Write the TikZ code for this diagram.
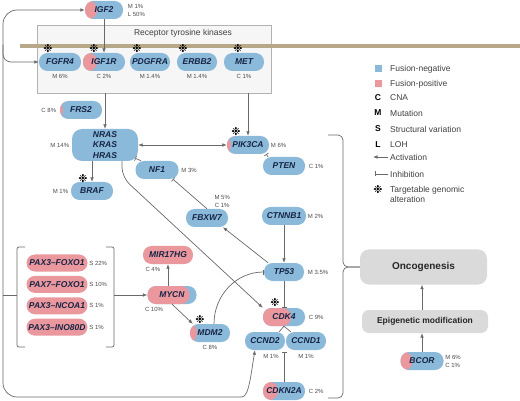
\documentclass[tikz,border=0pt]{standalone}
\usepackage{fontspec}
\setmainfont{Liberation Sans}
\newfontfamily\symfont{DejaVu Sans}
\usepackage{xcolor}
\usepackage{tikz}
\usetikzlibrary{positioning,arrows.meta}

\definecolor{fneg}{RGB}{139,185,218}
\definecolor{fpos}{RGB}{234,152,158}
\definecolor{genetext}{RGB}{22,36,68}
\definecolor{linegray}{RGB}{105,105,105}
\definecolor{freqgray}{RGB}{75,75,75}
\definecolor{boxgray}{RGB}{218,218,218}
\definecolor{rtkfill}{RGB}{246,246,246}
\definecolor{membrane}{RGB}{183,169,135}

\begin{document}
\begin{tikzpicture}[x=1pt, y=1pt, >={Latex[length=4.5pt,width=3.6pt]},
    pinkleft/.style={path picture={\fill[fpos] (path picture bounding box.south west) rectangle ([xshift=#1]path picture bounding box.north west);}}]
    \tikzstyle{gene} = [fill=fneg, rounded corners=8.5pt, minimum height=18pt, minimum width=42pt, inner sep=1pt, text=genetext, font=\fontsize{8.5}{10.5}\selectfont\bfseries\itshape]
    \tikzstyle{fusion} = [gene, fill=fpos, minimum width=61pt, minimum height=17pt]
    \tikzstyle{freq} = [font=\fontsize{6}{8}\selectfont, text=freqgray, inner sep=0.5pt, align=left]
    \tikzstyle{tgt} = [font=\fontsize{11}{11}\selectfont\symfont, inner sep=0pt]
    \tikzstyle{arrow} = [->, linegray, line width=0.7pt]
    \tikzstyle{inhib} = [-{Bar[width=5pt]}, linegray, line width=0.7pt]
    \tikzstyle{link} = [linegray, line width=0.7pt]
    \tikzstyle{outcome} = [fill=boxgray, rounded corners=9pt, text=black!85]
    \tikzstyle{legtext} = [anchor=west, font=\fontsize{8.5}{10}\selectfont, text=black!75, inner sep=0pt, align=left]
    \tikzstyle{legkey} = [font=\fontsize{8.5}{10}\selectfont\bfseries, inner sep=0pt]
    \tikzstyle{swatch} = [minimum size=7pt, inner sep=0pt]

    \useasboundingbox (0,0) rectangle (520,-401);

    % receptor tyrosine kinases at the membrane
    \node[draw=black!30, fill=rtkfill, minimum width=234pt, minimum height=68pt, anchor=north west] (rtk) at (37,-25) {};
    \node[font=\fontsize{8.5}{10}\selectfont, text=black!75] at (183,-33) {Receptor tyrosine kinases};
    \draw[membrane, line width=3.5pt] (20,-46) -- (520,-46);

    \node[gene, pinkleft=12pt, minimum width=38pt] (igf2) at (104,-10) {IGF2};
    \node[gene] (fgfr4) at (60,-62) {FGFR4};
    \node[gene, pinkleft=14pt] (igf1r) at (104,-62) {IGF1R};
    \node[gene, minimum width=40pt] (pdgfra) at (150,-62) {PDGFRA};
    \node[gene, minimum width=40pt] (erbb2) at (197,-62) {ERBB2};
    \node[gene, minimum width=40pt] (met) at (244,-62) {MET};

    % signalling
    \node[gene, pinkleft=3pt] (frs2) at (81,-110) {FRS2};
    \node[gene, minimum width=66pt, minimum height=32pt, rounded corners=10pt, align=center] (ras) at (105,-145) {NRAS\\KRAS\\HRAS};
    \node[gene] (braf) at (92,-191) {BRAF};
    \node[gene, minimum width=43pt] (nf1) at (157,-170) {NF1};
    \node[gene, pinkleft=4pt] (pik3ca) at (248,-145) {PIK3CA};
    \node[gene] (pten) at (284,-166) {PTEN};
    \node[gene] (fbxw7) at (207,-218) {FBXW7};
    \node[gene, minimum width=44pt] (ctnnb1) at (284,-216) {CTNNB1};
    \node[gene, minimum width=40pt] (tp53) at (284,-272) {TP53};
    \node[gene, pinkleft=28pt] (cdk4) at (284,-317) {CDK4};
    \node[gene, minimum width=40pt] (ccnd2) at (265,-341) {CCND2};
    \node[gene, minimum width=40pt] (ccnd1) at (306,-341) {CCND1};
    \node[gene, pinkleft=15pt] (cdkn2a) at (284,-391) {CDKN2A};
    \node[gene, fill=fpos, minimum width=50pt] (mir17hg) at (168,-255) {MIR17HG};
    \node[gene, pinkleft=42pt, minimum width=49pt] (mycn) at (172,-295) {MYCN};
    \node[gene, pinkleft=7pt, minimum width=40pt] (mdm2) at (210,-333) {MDM2};

    % fusions
    \node[fusion] (pax1) at (57,-263) {PAX3–FOXO1};
    \node[fusion, below=4pt of pax1] (pax2) {PAX7–FOXO1};
    \node[fusion, below=4pt of pax2] (pax3) {PAX3–NCOA1};
    \node[fusion, below=4pt of pax3] (pax4) {PAX3–INO80D};

    % outcome
    \node[outcome, minimum width=127pt, minimum height=35pt, font=\fontsize{10}{12}\selectfont\bfseries] (onco) at (423.5,-267) {Oncogenesis};
    \node[outcome, minimum width=126pt, minimum height=23pt, rounded corners=7pt, font=\fontsize{8.5}{10}\selectfont\bfseries] (epi) at (425,-321.5) {Epigenetic modification};
    \node[gene, pinkleft=12pt, minimum width=43pt] (bcor) at (422,-361) {BCOR};

    % frequencies
    \node[freq, right=4pt of igf2] {M 1\%\\L 50\%};
    \node[freq, below=2pt of fgfr4] {M 6\%};
    \node[freq, below=2pt of igf1r] {C 2\%};
    \node[freq, below=2pt of pdgfra] {M 1.4\%};
    \node[freq, below=2pt of erbb2] {M 1.4\%};
    \node[freq, below=2pt of met] {C 1\%};
    \node[freq, left=3pt of frs2] {C 8\%};
    \node[freq, left=2pt of ras] {M 14\%};
    \node[freq, left=2pt of braf] {M 1\%};
    \node[freq, right=2pt of nf1] {M 3\%};
    \node[freq, right=1pt of pik3ca] {M 6\%};
    \node[freq, right=3pt of pten] {C 1\%};
    \node[freq, align=center, anchor=south] at ([xshift=-6pt, yshift=1pt]fbxw7.north east) {M 5\%\\C 1\%};
    \node[freq, right=1pt of ctnnb1] {M 2\%};
    \node[freq, right=3pt of tp53] {M 3.5\%};
    \node[freq, right=3pt of cdk4] {C 9\%};
    \node[freq] at ([xshift=6pt, yshift=-6pt]ccnd2.south) {M 1\%};
    \node[freq] at ([yshift=-6pt]ccnd1.south) {M 1\%};
    \node[freq, right=3pt of cdkn2a] {C 2\%};
    \node[freq, anchor=north west] at ([xshift=2pt, yshift=-2pt]mir17hg.south west) {C 4\%};
    \node[freq, anchor=north west] at ([xshift=-3pt, yshift=-2pt]mycn.south west) {C 10\%};
    \node[freq, below=2pt of mdm2] {C 8\%};
    \node[freq, right=1pt of pax1] {S 22\%};
    \node[freq, right=1pt of pax2] {S 10\%};
    \node[freq, right=1pt of pax3] {S 1\%};
    \node[freq, right=1pt of pax4] {S 1\%};
    \node[freq, right=1pt of bcor] {M 6\%\\C 1\%};

    % targetable
    \node[tgt] at ([xshift=-12pt, yshift=4pt]fgfr4.north) {❉};
    \node[tgt] at ([xshift=-10pt, yshift=4pt]igf1r.north) {❉};
    \node[tgt] at ([xshift=-13pt, yshift=4pt]pdgfra.north) {❉};
    \node[tgt] at ([xshift=-14pt, yshift=4pt]erbb2.north) {❉};
    \node[tgt] at ([xshift=-6pt, yshift=4pt]met.north) {❉};
    \node[tgt] at ([xshift=-9pt, yshift=3pt]braf.north) {❉};
    \node[tgt] at ([xshift=-12pt, yshift=4pt]pik3ca.north) {❉};
    \node[tgt] at ([xshift=-10pt, yshift=4pt]mdm2.north) {❉};
    \node[tgt] at ([xshift=-9pt, yshift=5pt]cdk4.north) {❉};

    % fusion bracket and feedback rail
    \coordinate (brkTL) at (17,-247);
    \coordinate (brkBL) at (17,-347);
    \coordinate (brkTR) at (114,-247);
    \coordinate (brkBR) at (114,-347);
    \coordinate (fusL) at (17,-295);
    \coordinate (fusR) at (114,-295);
    \coordinate (rail) at (3,-45);
    \coordinate (railbot) at (3,-397);
    \draw[link, rounded corners=2pt] ([xshift=8pt]brkTL) -- (brkTL) -- (brkBL) -- ([xshift=8pt]brkBL);
    \draw[link, rounded corners=2pt] ([xshift=-8pt]brkTR) -- (brkTR) -- (brkBR) -- ([xshift=-8pt]brkBR);
    \draw[arrow] (fusR) -- (mycn);
    \draw[link] (fusL) -- (fusL -| rail);
    \draw[arrow, rounded corners=14pt] (rail) |- (igf2);
    \draw[arrow, rounded corners=8pt] (rail) |- (fgfr4);
    \draw[arrow, rounded corners=14pt] (rail) -- (railbot) -- ++(225,0) to[out=0, in=-100] ([xshift=-10pt]ccnd2.south);

    % connections
    \draw[arrow] (igf2) -- (igf1r);
    \draw[arrow] (rtk.south -| ras) -- (ras);
    \draw[arrow] (rtk.south -| pik3ca) -- (pik3ca);
    \draw[<->, linegray, line width=0.7pt] (ras) -- (pik3ca);
    \draw[arrow] (ras.south -| braf) -- (braf);
    \draw[arrow, rounded corners=10pt] ([xshift=17pt]ras.south) -- ++(0,-16) -- (cdk4.north west);
    \draw[inhib] (nf1.150) -- ([shift={(-3,3)}]ras.south east);
    \draw[inhib] (fbxw7.north) -- (nf1.-30);
    \draw[arrow] (tp53.150) -- (fbxw7.-30);
    \draw[inhib] (pten.150) -- ([xshift=-3pt]pik3ca.south east);
    \draw[arrow] (ctnnb1) -- (tp53);
    \draw[inhib] (tp53) -- (cdk4);
    \draw[link] (cdk4.south) -- ([xshift=-6pt]ccnd2.north east);
    \draw[link] (cdk4.south) -- ([xshift=5pt]ccnd1.north west);
    \draw[inhib, shorten >=2pt] (cdkn2a) -- (cdkn2a |- ccnd2.south);
    \draw[inhib] ([xshift=4pt]mdm2.north) to[out=90, in=180] (tp53.west);
    \draw[arrow] (mycn.north -| mir17hg) -- (mir17hg);
    \draw[arrow] (mycn.south) -- ([xshift=3pt]mdm2.north west);

    % brace into oncogenesis
    \coordinate (braceT) at (328,-135);
    \coordinate (braceB) at (328,-398);
    \draw[link, rounded corners=5pt] (braceT) -| (343,-267) -- (onco.west);
    \draw[link, rounded corners=5pt] (braceB) -| (343,-267) -- (onco.west);
    \draw[arrow] (bcor) -- (bcor |- epi.south);
    \draw[arrow] (epi.north -| bcor) -- (onco.south -| bcor);

    % legend
    \node[legtext] (lneg) at (390,-69) {Fusion-negative};
    \node[legtext] (lpos) at (390,-84) {Fusion-positive};
    \node[legtext] (lcna) at (390,-98) {CNA};
    \node[legtext] (lmut) at (390,-113) {Mutation};
    \node[legtext] (lsv) at (390,-129) {Structural variation};
    \node[legtext] (lloh) at (390,-145) {LOH};
    \node[legtext] (lact) at (390,-157) {Activation};
    \node[legtext] (linh) at (390,-174) {Inhibition};
    \node[legtext] (ltgt) at (390,-194) {Targetable genomic\\alteration};
    \node[swatch, fill=fneg] at (378.5,-69) {};
    \node[swatch, fill=fpos] at (378.5,-84) {};
    \node[legkey] at (378,-98) {C};
    \node[legkey] at (378,-113) {M};
    \node[legkey] at (378,-129) {S};
    \node[legkey] at (378,-145) {L};
    \draw[arrow] ([xshift=-2pt]lact.west) -- ++(-15,0);
    \draw[inhib] ([xshift=-2pt]linh.west) -- ++(-13,0);
    \node[tgt] at (378,-190) {❉};
\end{tikzpicture}
\end{document}
